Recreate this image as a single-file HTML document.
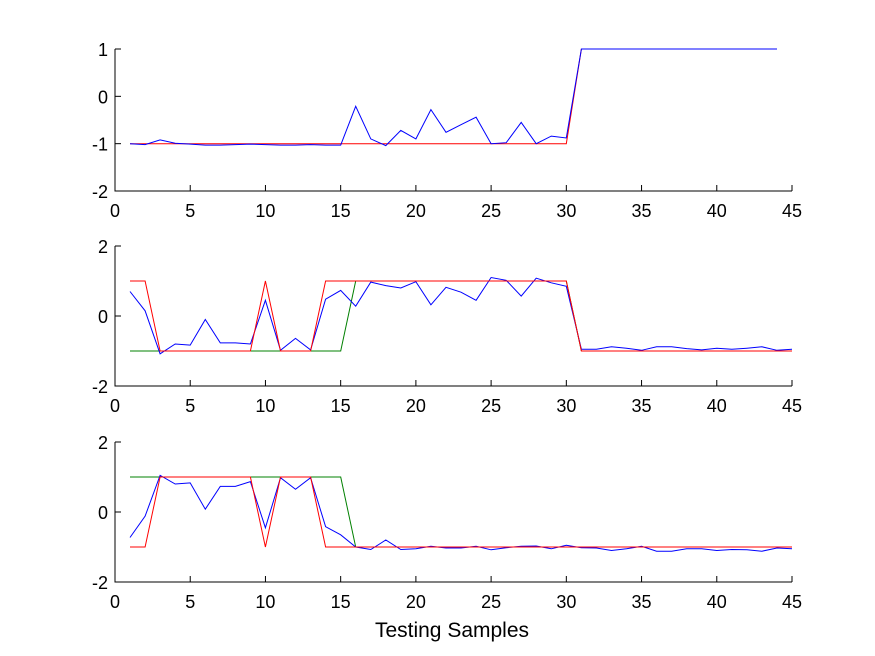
<!DOCTYPE html>
<html><head><meta charset="utf-8"><style>
html,body{margin:0;padding:0;background:#fff;}
svg{display:block;font-family:"Liberation Sans",Arial,sans-serif;}
</style></head><body>
<svg id="chart" width="875" height="656" xmlns="http://www.w3.org/2000/svg"></svg>
<script>
// Data arrays
const xTicks = [0,5,10,15,20,25,30,35,40,45];
const yTicks1 = [-2,-1,0,1];
const yTicks23 = [-2,0,2];
const blue1 = [-1,-1.02,-0.92,-0.99,-1.01,-1.03,-1.03,-1.02,-1.01,-1.02,-1.03,-1.03,-1.02,-1.03,-1.03,-0.21,-0.9,-1.04,-0.72,-0.9,-0.28,-0.76,-0.6,-0.44,-1.0,-0.98,-0.55,-1.0,-0.84,-0.88,1.0,1.0,1.0,1.0,1.0,1.0,1.0,1.0,1.0,1.0,1.0,1.0,1.0,1.0];
const red1 = [-1,-1,-1,-1,-1,-1,-1,-1,-1,-1,-1,-1,-1,-1,-1,-1,-1,-1,-1,-1,-1,-1,-1,-1,-1,-1,-1,-1,-1,-1,1,1,1,1,1,1,1,1,1,1,1,1,1,1];
const green2 = [-1,-1,-1,-1,-1,-1,-1,-1,-1,-1,-1,-1,-1,-1,-1,1,1,1,1,1,1,1,1,1,1,1,1,1,1,1,-1,-1,-1,-1,-1,-1,-1,-1,-1,-1,-1,-1,-1,-1,-1];
const red2 = [1,1,-1,-1,-1,-1,-1,-1,-1,1,-1,-1,-1,1,1,1,1,1,1,1,1,1,1,1,1,1,1,1,1,1,-1,-1,-1,-1,-1,-1,-1,-1,-1,-1,-1,-1,-1,-1,-1];
const blue2 = [0.7,0.15,-1.08,-0.8,-0.83,-0.1,-0.77,-0.77,-0.8,0.45,-0.98,-0.64,-0.97,0.48,0.73,0.28,0.97,0.87,0.8,0.98,0.32,0.82,0.68,0.45,1.1,1.02,0.57,1.08,0.95,0.85,-0.95,-0.95,-0.88,-0.92,-0.98,-0.88,-0.88,-0.93,-0.97,-0.92,-0.95,-0.92,-0.88,-0.98,-0.95];
const green3 = [1,1,1,1,1,1,1,1,1,1,1,1,1,1,1,-1,-1,-1,-1,-1,-1,-1,-1,-1,-1,-1,-1,-1,-1,-1,-1,-1,-1,-1,-1,-1,-1,-1,-1,-1,-1,-1,-1,-1,-1];
const red3 = [-1,-1,1,1,1,1,1,1,1,-1,1,1,1,-1,-1,-1,-1,-1,-1,-1,-1,-1,-1,-1,-1,-1,-1,-1,-1,-1,-1,-1,-1,-1,-1,-1,-1,-1,-1,-1,-1,-1,-1,-1,-1];
const blue3 = [-0.73,-0.12,1.05,0.8,0.83,0.08,0.73,0.73,0.87,-0.45,0.98,0.65,0.98,-0.42,-0.65,-1.0,-1.07,-0.8,-1.07,-1.05,-0.98,-1.03,-1.03,-0.98,-1.08,-1.02,-0.98,-0.97,-1.05,-0.95,-1.02,-1.03,-1.1,-1.05,-0.98,-1.12,-1.12,-1.05,-1.05,-1.1,-1.07,-1.08,-1.12,-1.03,-1.05];

const NS="http://www.w3.org/2000/svg";
const svg=document.getElementById('chart');
const X0=115, X1=792, XMAX=45;
function xs(v){return X0+(X1-X0)*v/XMAX;}
function mk(tag,attrs,parent){const e=document.createElementNS(NS,tag);for(const k in attrs)e.setAttribute(k,attrs[k]);(parent||svg).appendChild(e);return e;}

function panel(idx,top,bottom,ymin,ymax,yTicks,series){
  const g=mk('g',{});
  
  
  const ys=v=>bottom-(bottom-top)*(v-ymin)/(ymax-ymin);
  const ax=mk('path',{d:`M${X0},${top}V${bottom}H${X1}`,stroke:'#000',fill:'none','stroke-width':1},g);
  
  
  xTicks.forEach(t=>{
    const x=xs(t);
    mk('line',{x1:x,x2:x,y1:bottom,y2:bottom-6,stroke:'#000'},g);
    const tx=mk('text',{x:x,y:bottom+26,'text-anchor':'middle','font-size':18},g);
    tx.textContent=t;
    
    
  });
  yTicks.forEach(t=>{
    const y=ys(t);
    mk('line',{x1:X0,x2:X0+6,y1:y,y2:y,stroke:'#000'},g);
    const tx=mk('text',{x:X0-7,y:y+7,'text-anchor':'end','font-size':18},g);
    tx.textContent=t;
    
    
  });
  series.forEach(s=>{
    const pts=s.data.map((v,i)=>xs(i+1).toFixed(1)+','+ys(v).toFixed(1)).join(' ');
    const pl=mk('polyline',{points:pts,fill:'none',stroke:s.color,'stroke-width':1},g);
    
    
  });
}
panel(1,49,191,-2,1,yTicks1,[{data:red1,color:'#ff0000',name:'target-line-1'},{data:blue1,color:'#0000ff',name:'output-line-1'}]);
panel(2,246,386,-2,2,yTicks23,[{data:green2,color:'#008000',name:'green-line-2'},{data:blue2,color:'#0000ff',name:'output-line-2'},{data:red2,color:'#ff0000',name:'target-line-2'}]);
panel(3,442,582,-2,2,yTicks23,[{data:green3,color:'#008000',name:'green-line-3'},{data:blue3,color:'#0000ff',name:'output-line-3'},{data:red3,color:'#ff0000',name:'target-line-3'}]);
const xl=mk('text',{x:452,y:637,'text-anchor':'middle','font-size':21});
xl.textContent='Testing Samples';


</script>
</body></html>
